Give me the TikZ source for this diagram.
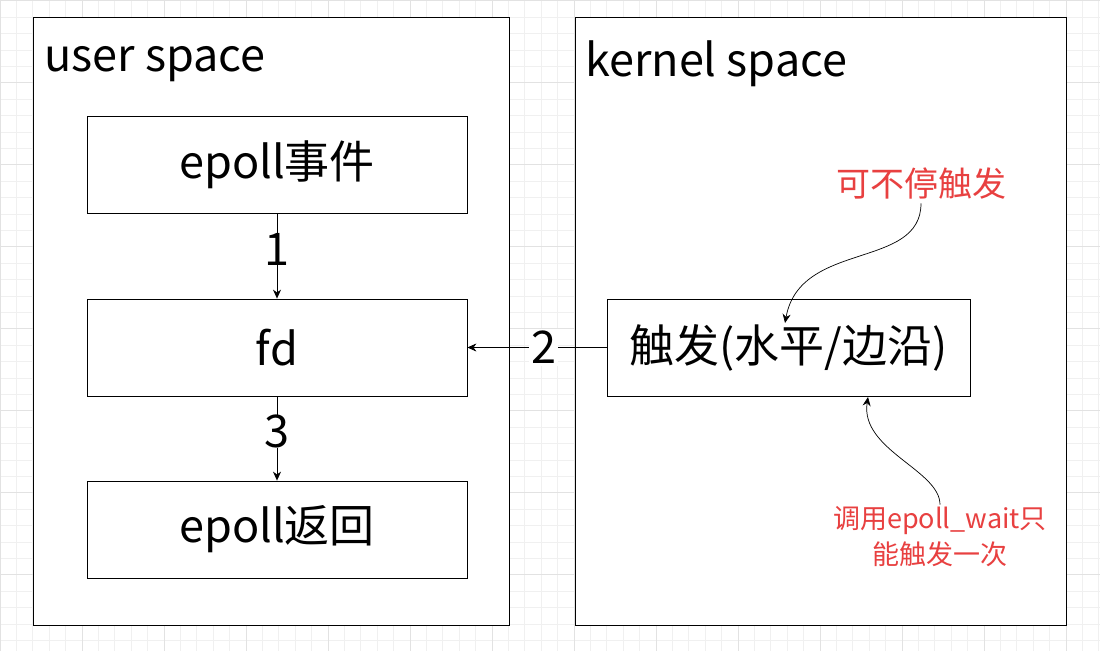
\documentclass[tikz,border=0pt]{standalone}
\usepackage{fontspec}
\setmainfont{Noto Sans CJK SC}
\usetikzlibrary{arrows.meta}
\definecolor{redtxt}{RGB}{232,64,64}
\definecolor{gminor}{RGB}{240,240,240}
\definecolor{gmajor}{RGB}{226,226,226}
\begin{document}
\begin{tikzpicture}[x=1pt,y=-1pt,
  box/.style={draw=black,line width=0.8pt,fill=white,inner sep=0pt},
  lbl/.style={font=\fontsize{45}{50}\selectfont},
  num/.style={font=\fontsize{45}{50}\selectfont,fill=white,inner sep=1pt},
  rtxt/.style={text=redtxt,align=center},
  arr/.style={-{Stealth[length=9pt,width=8pt]},line width=0.7pt}]
\useasboundingbox (0,0) rectangle (1100,651);
\fill[white] (0,0) rectangle (1100,651);
\foreach \i in {0,...,67} {\draw[gminor,line width=0.8pt] ({\i*16.4},0) -- ({\i*16.4},651);}
\foreach \i in {0,...,40} {\draw[gminor,line width=0.8pt] (0,{0.8+\i*16.4}) -- (1100,{0.8+\i*16.4});}
\foreach \i in {0,...,13} {\draw[gmajor,line width=0.8pt] ({\i*82},0) -- ({\i*82},651);}
\foreach \i in {0,...,8} {\draw[gmajor,line width=0.8pt] (0,{0.8+\i*82}) -- (1100,{0.8+\i*82});}
\node[box,minimum width=476,minimum height=608,anchor=north west] (user) at (33,17) {};
\node[box,minimum width=491,minimum height=608,anchor=north west] (kern) at (575,17) {};
\node[lbl,anchor=west,inner sep=0pt] (ut) at (44,64) {user space};
\node[lbl,anchor=west,inner sep=0pt] (kt) at (585,64) {kernel space};
\node[box,lbl,minimum width=380,minimum height=97] (ev) at (277,164.5) {epoll事件};
\node[box,lbl,minimum width=380,minimum height=97] (fd) at (277,347.5) {fd};
\node[box,lbl,minimum width=380,minimum height=97] (ret) at (277,529.5) {epoll返回};
\node[box,lbl,minimum width=363,minimum height=97] (tr) at (788.5,347.5) {触发(水平/边沿)};
\draw[arr] (ev) -- node[num,inner sep=0pt,pos=0.42]{1} (fd);
\draw[arr] (fd) -- node[num,inner sep=0pt,pos=0.42]{3} (ret);
\draw[arr] (tr) -- node[num,pos=0.45,inner sep=2pt]{2} (fd);
\node[rtxt,font=\fontsize{34}{38}\selectfont] (r1) at (921,184) {可不停触发};
\node[rtxt,font=\fontsize{27}{36}\selectfont,inner sep=2pt] (r2) at (940,537) {调用epoll\_wait只\\能触发一次};
\draw[arr] (r1.south) .. controls (921,270) and (800,240) .. (785,323);
\draw[arr] (r2.north) .. controls (940,470) and (860,450) .. (868,397);
\end{tikzpicture}
\end{document}
